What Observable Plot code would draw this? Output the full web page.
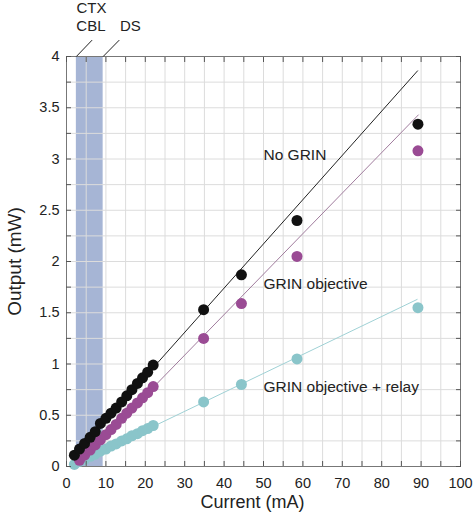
<!DOCTYPE html>
<html>
<head>
<meta charset="utf-8">
<script src="https://cdn.jsdelivr.net/npm/d3@7"></script>
<script src="https://cdn.jsdelivr.net/npm/@observablehq/plot@0.6"></script>
<style>
  html, body { margin: 0; padding: 0; background: #fff; }
  #chart { width: 474px; height: 523px; }
</style>
</head>
<body>
<div id="chart"></div>
<script>
// ---- data ----
const denseX = [2.0, 3.3, 4.6, 6.0, 7.3, 8.6, 10.0, 11.3, 12.6, 14.0, 15.3, 16.6, 18.0, 19.3, 20.6, 22.0];
const noGrinDense = [0.11, 0.17, 0.225, 0.285, 0.34, 0.42, 0.47, 0.52, 0.57, 0.63, 0.69, 0.75, 0.81, 0.865, 0.92, 0.99];
const objDenseX = [3.3, 4.6, 6.0, 7.3, 8.6, 10.0, 11.3, 12.6, 14.0, 15.3, 16.6, 18.0, 19.3, 20.6, 22.0];
const objDense = [0.06, 0.11, 0.16, 0.21, 0.26, 0.31, 0.36, 0.41, 0.47, 0.52, 0.57, 0.62, 0.67, 0.72, 0.78];
const relayDense = [0.02, 0.05, 0.07, 0.10, 0.12, 0.15, 0.17, 0.20, 0.22, 0.25, 0.27, 0.30, 0.32, 0.35, 0.37, 0.40];

const sparseX = [34.8, 44.4, 58.5, 89.2];
const noGrinSparse = [1.53, 1.87, 2.40, 3.34];
const objSparse = [1.25, 1.59, 2.05, 3.08];
const relaySparse = [0.63, 0.80, 1.05, 1.55];

// fitted lines (endpoints)
const noGrinFitX = [2.0, 89.1];
const noGrinFitY = [0.10, 3.86];
const objFitX = [2.5, 89.3];
const objFitY = [0.0, 3.43];
const relayFitX = [2.0, 89.0];
const relayFitY = [0.02, 1.63];

// region band
const bandStart = [2.5];
const bandEnd = [9.3];

const seriesNames = ["No GRIN", "GRIN objective", "GRIN objective + relay"];
const seriesLabelX = [50, 50, 50];
const seriesLabelY = [3.04, 1.78, 0.78];

const regionLabels = ["CTX", "CBL", "DS"];
const regionLabelX = [6.35, 6.2, 16.2];
const regionLabelY = [4.47, 4.30, 4.30];
const pointerX1 = [2.5, 9.3];
const pointerX2 = [6.5, 13.4];
const pointerY1 = [4.0, 4.0];
const pointerY2 = [4.16, 4.16];

const xTicksMinor = d3.range(0, 101, 5);
const xTicksMajor = d3.range(0, 101, 10);
const yTicksMinor = d3.range(0, 4.001, 0.25);
const yTicksMajor = [0, 0.5, 1, 1.5, 2, 2.5, 3, 3.5, 4];

const colors = { black: "#111111", purple: "#9a4b94", cyan: "#8ac5ca" };
const lineColors = { black: "#222222", purple: "#a07c9d", cyan: "#9fd1d5" };

const pts = (xs, ys) => xs.map((x, i) => ({ x, y: ys[i] }));

const chart = Plot.plot({
  width: 474,
  height: 523,
  marginLeft: 66,
  marginRight: 14,
  marginTop: 56,
  marginBottom: 57,
  style: { fontFamily: "'Liberation Sans', Arial, Helvetica, sans-serif", color: "#222", background: "#fff" },
  x: { domain: [0, 100] },
  y: { domain: [0, 4] },
  marks: [
    Plot.rect(bandStart, { x1: d => d, x2: (d, i) => bandEnd[i], y1: 0, y2: 4, fill: "#a6b5d5" }),
    Plot.gridX({ ticks: xTicksMinor, stroke: "#dcdcdc", strokeOpacity: 1 }),
    Plot.gridY({ ticks: yTicksMinor, stroke: "#dcdcdc", strokeOpacity: 1 }),
    Plot.frame({ stroke: "#777" }),
    Plot.line(pts(noGrinFitX, noGrinFitY), { x: "x", y: "y", stroke: lineColors.black, strokeWidth: 1 }),
    Plot.line(pts(objFitX, objFitY), { x: "x", y: "y", stroke: lineColors.purple, strokeWidth: 1 }),
    Plot.line(pts(relayFitX, relayFitY), { x: "x", y: "y", stroke: lineColors.cyan, strokeWidth: 1 }),
    Plot.dot(pts(denseX, relayDense), { x: "x", y: "y", r: 5.5, fill: colors.cyan }),
    Plot.dot(pts(objDenseX, objDense), { x: "x", y: "y", r: 5.5, fill: colors.purple }),
    Plot.dot(pts(denseX, noGrinDense), { x: "x", y: "y", r: 5.5, fill: colors.black }),
    Plot.dot(pts(sparseX, relaySparse), { x: "x", y: "y", r: 5.5, fill: colors.cyan }),
    Plot.dot(pts(sparseX, objSparse), { x: "x", y: "y", r: 5.5, fill: colors.purple }),
    Plot.dot(pts(sparseX, noGrinSparse), { x: "x", y: "y", r: 5.5, fill: colors.black }),
    Plot.text(seriesNames, { x: (d, i) => seriesLabelX[i], y: (d, i) => seriesLabelY[i], text: d => d, textAnchor: "start", fontSize: 15.5, fill: "#222" }),
    Plot.link(pointerX1, { x1: d => d, x2: (d, i) => pointerX2[i], y1: (d, i) => pointerY1[i], y2: (d, i) => pointerY2[i], stroke: "#222", strokeWidth: 1 }),
    Plot.text(regionLabels, { x: (d, i) => regionLabelX[i], y: (d, i) => regionLabelY[i], text: d => d, fontSize: 15, fill: "#222" }),
    // inward ticks
    Plot.axisX({ anchor: "bottom", ticks: xTicksMinor, tickSize: -5, tickFormat: () => "", label: null, stroke: "#555" }),
    Plot.axisX({ anchor: "top", ticks: xTicksMinor, tickSize: -5, tickFormat: () => "", label: null, stroke: "#555" }),
    Plot.axisY({ anchor: "left", ticks: yTicksMinor, tickSize: -5, tickFormat: () => "", label: null, stroke: "#555" }),
    Plot.axisY({ anchor: "right", ticks: yTicksMinor, tickSize: -5, tickFormat: () => "", label: null, stroke: "#555" }),
    // labels
    Plot.axisX({ anchor: "bottom", ticks: xTicksMajor, tickSize: 0, tickPadding: 11, tickFormat: d => String(d), label: null, fontSize: 14.5, fill: "#222" }),
    Plot.axisY({ anchor: "left", ticks: yTicksMajor, tickSize: 0, tickPadding: 7, tickFormat: d => String(d), label: null, fontSize: 14.5, fill: "#222" }),
    Plot.text(["Current (mA)"], { frameAnchor: "bottom", dx: -11, dy: 36, lineAnchor: "middle", textAnchor: "middle", text: d => d, fontSize: 18, fill: "#222" }),
    Plot.text(["Output (mW)"], { frameAnchor: "left", dx: -52, dy: 0, rotate: -90, lineAnchor: "middle", textAnchor: "middle", text: d => d, fontSize: 19, fill: "#222" })
  ]
});
document.getElementById("chart").appendChild(chart);
</script>
</body>
</html>
